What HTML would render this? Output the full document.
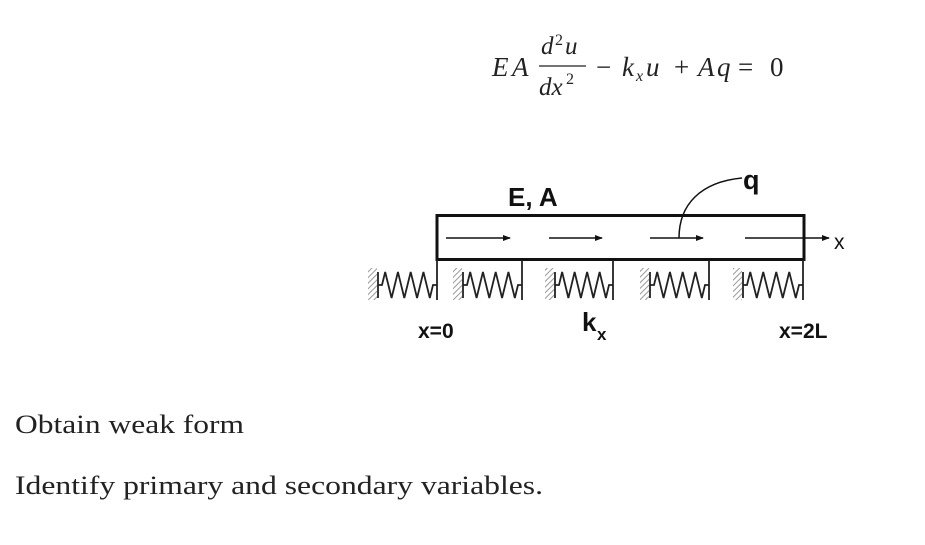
<!DOCTYPE html>
<html><head><meta charset="utf-8"><style>
html,body{margin:0;padding:0;background:#fff;width:925px;height:545px;overflow:hidden}
svg{display:block}
</style></head><body>
<svg id="s" width="925" height="545" viewBox="0 0 925 545" xmlns="http://www.w3.org/2000/svg">
<defs>
<pattern id="h" width="4" height="4" patternUnits="userSpaceOnUse" patternTransform="rotate(45)">
<rect width="4" height="4" fill="#fff"/><line x1="0" y1="0" x2="0" y2="4" stroke="#999" stroke-width="2"/>
</pattern>
<marker id="a" markerWidth="8" markerHeight="6" refX="7" refY="3" orient="auto" markerUnits="userSpaceOnUse">
<path d="M0,0 L8,3 L0,6 z" fill="#111"/></marker>
</defs>
<g font-family="Liberation Serif, serif" font-style="italic" fill="#222" font-size="27">
<text x="492" y="76">E</text><text x="512" y="76">A</text>
<text x="541" y="54" font-size="25">d</text><text x="555" y="45" font-size="16" font-style="normal">2</text><text x="565" y="54" font-size="25">u</text>
<line x1="539" y1="66" x2="586" y2="66" stroke="#222" stroke-width="1.3"/>
<text x="539" y="95" font-size="25">dx</text><text x="566" y="84" font-size="16" font-style="normal">2</text>
<text x="596" y="76" font-style="normal">−</text>
<text x="622" y="76">k</text><text x="636" y="81" font-size="16">x</text><text x="646" y="76">u</text>
<text x="674" y="76" font-style="normal">+</text>
<text x="698" y="76">A</text><text x="717" y="76">q</text>
<text x="738" y="76" font-style="normal">=</text>
<text x="770" y="76" font-style="normal">0</text>
</g>
<rect x="437" y="215.5" width="367" height="44" fill="#fff" stroke="#111" stroke-width="3"/>
<g stroke="#111" stroke-width="1.5" fill="none" marker-end="url(#a)">
<line x1="446" y1="238" x2="510" y2="238"/>
<line x1="549" y1="238" x2="602" y2="238"/>
<line x1="650" y1="238" x2="703" y2="238"/>
<line x1="745" y1="238" x2="829" y2="238"/>
</g>
<path d="M679,238 C679,205 700,182 742,178" stroke="#111" stroke-width="1.5" fill="none"/>
<g id="sp" stroke="#222" stroke-width="1.8" fill="none"></g>
<g font-family="Liberation Sans, sans-serif" font-weight="bold" fill="#111">
<text x="508" y="206" font-size="26">E, A</text>
<text x="743" y="189" font-size="27">q</text>
<text x="834" y="249" font-size="21" font-weight="normal">x</text>
<text x="418" y="338" font-size="21">x=0</text>
<text x="582" y="331" font-size="26">k</text><text x="597" y="340" font-size="17">x</text>
<text x="779" y="338" font-size="21">x=2L</text>
</g>
<g font-family="Liberation Serif, serif" fill="#222" font-size="26">
<text x="15" y="433" textLength="229" lengthAdjust="spacingAndGlyphs">Obtain weak form</text>
<text x="15" y="494" textLength="528" lengthAdjust="spacingAndGlyphs">Identify primary and secondary variables.</text>
</g>
</svg>
<script>
var g=document.getElementById('sp'),ns='http://www.w3.org/2000/svg';
[[368,437],[453,522],[545,613],[640,709],[733,803]].forEach(function(p){
 var wx=p[0],vx=p[1];
 var r=document.createElementNS(ns,'rect');r.setAttribute('x',wx);r.setAttribute('y',268);r.setAttribute('width',9);r.setAttribute('height',32);r.setAttribute('fill','url(#h)');r.setAttribute('stroke','none');g.appendChild(r);
 var l=document.createElementNS(ns,'line');l.setAttribute('x1',wx+10);l.setAttribute('x2',wx+10);l.setAttribute('y1',272);l.setAttribute('y2',298);g.appendChild(l);
 var v=document.createElementNS(ns,'line');v.setAttribute('x1',vx);v.setAttribute('x2',vx);v.setAttribute('y1',260);v.setAttribute('y2',300);g.appendChild(v);
 var s=wx+10,e=vx,n=8,d='M'+s+',285 L'+(s+4)+',285';
 var w=(e-s-8)/n;
 for(var i=0;i<n;i++){d+=' L'+(s+4+w*(i+0.5))+','+(i%2?298:272);}
 d+=' L'+(e-4)+',285 L'+e+',285';
 var pa=document.createElementNS(ns,'path');pa.setAttribute('d',d);g.appendChild(pa);
});
</script>
</body></html>
